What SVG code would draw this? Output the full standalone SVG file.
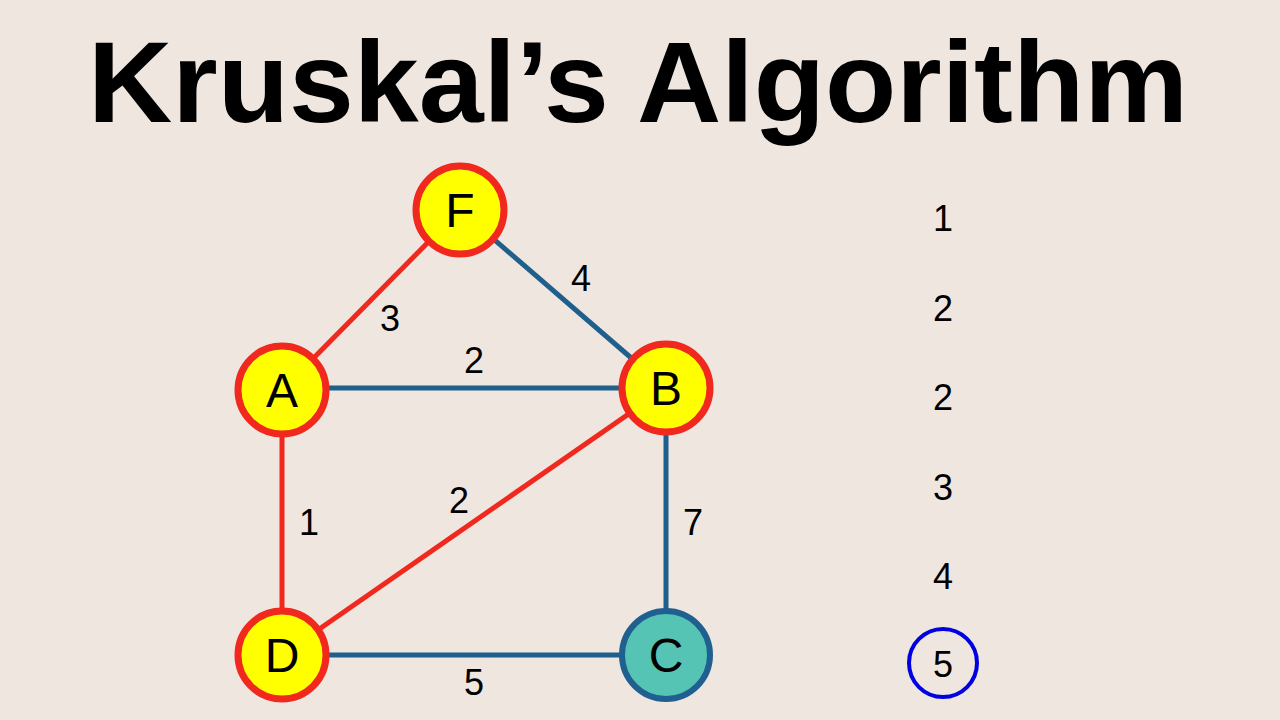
<svg xmlns="http://www.w3.org/2000/svg" width="1280" height="720" viewBox="0 0 1280 720">
<style>
.r{stroke:#f0281e;stroke-width:5}
.b{stroke:#1f5f8b;stroke-width:5}
.n{fill:#ffff00;stroke:#f0281e;stroke-width:7}
.t{font-family:"Liberation Sans",Arial,sans-serif;font-size:48px;text-anchor:middle;fill:#000}
.w{font-family:"Liberation Sans",Arial,sans-serif;font-size:36px;text-anchor:middle;fill:#000}
</style>
<rect width="1280" height="720" fill="#efe6e0"/>
<text x="638" y="122" font-family="Liberation Sans,Arial,sans-serif" font-weight="bold" font-size="115" text-anchor="middle" textLength="1100" lengthAdjust="spacingAndGlyphs">Kruskal’s Algorithm</text>
<g id="edges">
<line class="r" x1="460" y1="210" x2="282" y2="390"/>
<line class="b" x1="460" y1="210" x2="666" y2="388"/>
<line class="b" x1="282" y1="388" x2="666" y2="388"/>
<line class="r" x1="282" y1="390" x2="282" y2="655"/>
<line class="r" x1="666" y1="388" x2="282" y2="655"/>
<line class="b" x1="666" y1="388" x2="666" y2="655"/>
<line class="b" x1="282" y1="655" x2="666" y2="655"/>
<text class="w" x="390" y="331">3</text>
<text class="w" x="581" y="291">4</text>
<text class="w" x="474" y="373">2</text>
<text class="w" x="309" y="535">1</text>
<text class="w" x="459" y="513">2</text>
<text class="w" x="693" y="535">7</text>
<text class="w" x="474" y="695">5</text>
</g>
<g id="F"><circle class="n" cx="460" cy="210" r="44"/><text class="t" x="460" y="227">F</text></g>
<g id="A"><circle class="n" cx="282" cy="390" r="44"/><text class="t" x="282" y="407">A</text></g>
<g id="B"><circle class="n" cx="666" cy="388" r="44"/><text class="t" x="666" y="405">B</text></g>
<g id="D"><circle class="n" cx="282" cy="655" r="44"/><text class="t" x="282" y="672">D</text></g>
<g id="C"><circle cx="666" cy="655" r="44" fill="#55c4b4" stroke="#1f6090" stroke-width="6"/><text class="t" x="666" y="672">C</text></g>
<g id="list">
<text class="w" x="943" y="231">1</text>
<text class="w" x="943" y="321">2</text>
<text class="w" x="943" y="410">2</text>
<text class="w" x="943" y="500">3</text>
<text class="w" x="943" y="589">4</text>
<text class="w" x="943" y="677">5</text>
<circle cx="943" cy="663" r="34" fill="none" stroke="#0000e0" stroke-width="4"/>
</g>
</svg>
